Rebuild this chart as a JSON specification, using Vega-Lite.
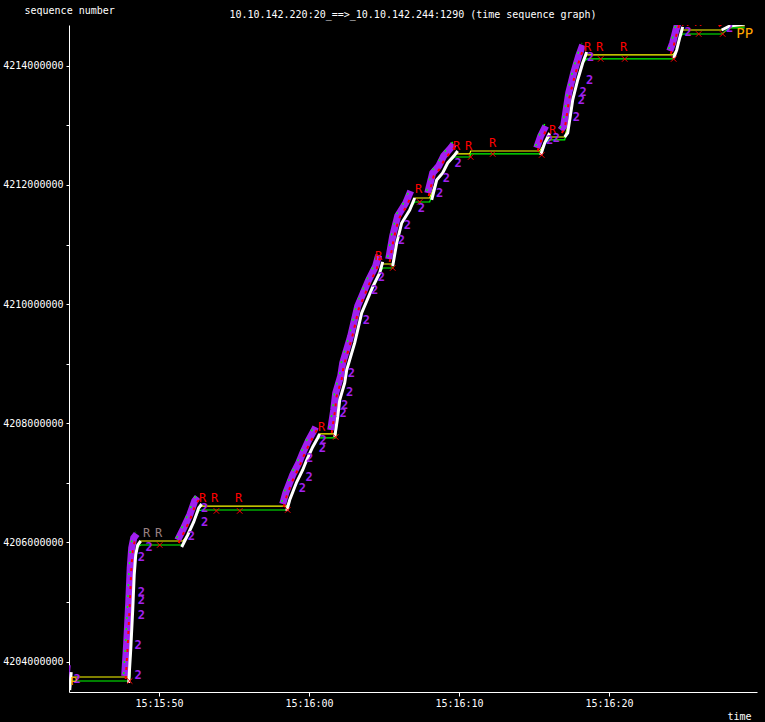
{
  "$schema": "https://vega.github.io/schema/vega-lite/v6.json",
  "width": 688,
  "height": 667,
  "autosize": "none",
  "padding": {"left": 69, "top": 25, "right": 8, "bottom": 30},
  "background": "#000000",
  "config": {"view": {"stroke": null}, "font": "DejaVu Sans Mono"},
  "title": {"text": "10.10.142.220:20_==>_10.10.142.244:1290 (time sequence graph)", "color": "#ffffff", "font": "DejaVu Sans Mono", "fontSize": 10, "fontWeight": "normal", "anchor": "middle", "offset": -15},
  "datasets": {
    "win": [
      {"t": 44.18, "s": 4203743000}, {"t": 48.047, "s": 4203743000}, {"t": 48.113, "s": 4204196000}, {"t": 48.247, "s": 4204868000}, {"t": 48.347, "s": 4205455000}, {"t": 48.447, "s": 4205790000}, {"t": 48.58, "s": 4205925000}, {"t": 48.78, "s": 4206025000}, {"t": 51.58, "s": 4206025000}, {"t": 51.913, "s": 4206126000}, {"t": 52.313, "s": 4206344000}, {"t": 52.647, "s": 4206579000}, {"t": 52.847, "s": 4206612000}, {"t": 58.513, "s": 4206612000}, {"t": 58.713, "s": 4206713000}, {"t": 59.18, "s": 4207015000}, {"t": 59.58, "s": 4207217000}, {"t": 59.847, "s": 4207384000}, {"t": 60.247, "s": 4207603000}, {"t": 60.58, "s": 4207754000}, {"t": 60.713, "s": 4207821000}, {"t": 61.78, "s": 4207821000}, {"t": 61.913, "s": 4208106000}, {"t": 62.047, "s": 4208391000}, {"t": 62.38, "s": 4208676000}, {"t": 62.513, "s": 4208894000}, {"t": 63.047, "s": 4209348000}, {"t": 63.513, "s": 4209851000}, {"t": 64.247, "s": 4210287000}, {"t": 64.713, "s": 4210522000}, {"t": 64.913, "s": 4210673000}, {"t": 65.58, "s": 4210673000}, {"t": 65.847, "s": 4211025000}, {"t": 66.18, "s": 4211361000}, {"t": 66.713, "s": 4211579000}, {"t": 67.047, "s": 4211780000}, {"t": 68.047, "s": 4211780000}, {"t": 68.513, "s": 4212082000}, {"t": 68.913, "s": 4212200000}, {"t": 69.247, "s": 4212368000}, {"t": 69.713, "s": 4212519000}, {"t": 70.713, "s": 4212519000}, {"t": 70.78, "s": 4212569000}, {"t": 75.38, "s": 4212569000}, {"t": 75.713, "s": 4212703000}, {"t": 76.047, "s": 4212804000}, {"t": 77.047, "s": 4212804000}, {"t": 77.38, "s": 4213089000}, {"t": 77.58, "s": 4213425000}, {"t": 77.913, "s": 4213760000}, {"t": 78.247, "s": 4214046000}, {"t": 78.513, "s": 4214180000}, {"t": 84.247, "s": 4214180000}, {"t": 84.513, "s": 4214264000}, {"t": 84.713, "s": 4214465000}, {"t": 84.913, "s": 4214599000}, {"t": 87.513, "s": 4214599000}, {"t": 88.047, "s": 4214666000}, {"t": 89.047, "s": 4214666000}
    ],
    "ack": [
      {"t": 44.18, "s": 4203676000}, {"t": 48.047, "s": 4203676000}, {"t": 48.113, "s": 4204196000}, {"t": 48.247, "s": 4204868000}, {"t": 48.347, "s": 4205455000}, {"t": 48.447, "s": 4205790000}, {"t": 48.58, "s": 4205925000}, {"t": 48.78, "s": 4205958000}, {"t": 51.58, "s": 4205958000}, {"t": 51.913, "s": 4206126000}, {"t": 52.313, "s": 4206344000}, {"t": 52.647, "s": 4206529000}, {"t": 52.847, "s": 4206545000}, {"t": 58.513, "s": 4206545000}, {"t": 58.713, "s": 4206713000}, {"t": 59.18, "s": 4207015000}, {"t": 59.58, "s": 4207217000}, {"t": 59.847, "s": 4207384000}, {"t": 60.247, "s": 4207603000}, {"t": 60.58, "s": 4207754000}, {"t": 61.78, "s": 4207754000}, {"t": 61.913, "s": 4208106000}, {"t": 62.047, "s": 4208391000}, {"t": 62.38, "s": 4208676000}, {"t": 62.513, "s": 4208894000}, {"t": 63.047, "s": 4209348000}, {"t": 63.513, "s": 4209851000}, {"t": 64.247, "s": 4210287000}, {"t": 64.713, "s": 4210522000}, {"t": 64.913, "s": 4210606000}, {"t": 65.58, "s": 4210606000}, {"t": 65.847, "s": 4211025000}, {"t": 66.18, "s": 4211361000}, {"t": 66.713, "s": 4211579000}, {"t": 67.047, "s": 4211713000}, {"t": 68.047, "s": 4211713000}, {"t": 68.513, "s": 4212082000}, {"t": 68.913, "s": 4212200000}, {"t": 69.247, "s": 4212368000}, {"t": 69.713, "s": 4212468000}, {"t": 70.713, "s": 4212468000}, {"t": 70.78, "s": 4212519000}, {"t": 75.38, "s": 4212519000}, {"t": 75.713, "s": 4212703000}, {"t": 76.047, "s": 4212754000}, {"t": 77.047, "s": 4212754000}, {"t": 77.38, "s": 4213089000}, {"t": 77.58, "s": 4213425000}, {"t": 77.913, "s": 4213760000}, {"t": 78.247, "s": 4214046000}, {"t": 78.513, "s": 4214113000}, {"t": 84.247, "s": 4214113000}, {"t": 84.513, "s": 4214264000}, {"t": 84.713, "s": 4214465000}, {"t": 84.913, "s": 4214532000}, {"t": 87.513, "s": 4214532000}, {"t": 88.047, "s": 4214633000}, {"t": 89.047, "s": 4214633000}
    ],
    "seg": [
      {"g": 0, "t": 44.047, "s": 4203525000}, {"g": 0, "t": 44.147, "s": 4203827000},
      {"g": 1, "t": 47.98, "s": 4203643000}, {"g": 1, "t": 48.113, "s": 4204196000}, {"g": 1, "t": 48.247, "s": 4204868000}, {"g": 1, "t": 48.347, "s": 4205455000}, {"g": 1, "t": 48.447, "s": 4205790000}, {"g": 1, "t": 48.58, "s": 4205958000}, {"g": 1, "t": 48.78, "s": 4206025000},
      {"g": 2, "t": 51.513, "s": 4205925000}, {"g": 2, "t": 51.913, "s": 4206126000}, {"g": 2, "t": 52.313, "s": 4206344000}, {"g": 2, "t": 52.647, "s": 4206579000}, {"g": 2, "t": 52.847, "s": 4206646000},
      {"g": 3, "t": 58.513, "s": 4206529000}, {"g": 3, "t": 58.713, "s": 4206713000}, {"g": 3, "t": 59.18, "s": 4207015000}, {"g": 3, "t": 59.58, "s": 4207217000}, {"g": 3, "t": 59.847, "s": 4207384000}, {"g": 3, "t": 60.247, "s": 4207603000}, {"g": 3, "t": 60.58, "s": 4207754000}, {"g": 3, "t": 60.713, "s": 4207821000},
      {"g": 4, "t": 61.713, "s": 4207770000}, {"g": 4, "t": 61.913, "s": 4208106000}, {"g": 4, "t": 62.047, "s": 4208391000}, {"g": 4, "t": 62.38, "s": 4208676000}, {"g": 4, "t": 62.513, "s": 4208894000}, {"g": 4, "t": 63.047, "s": 4209348000}, {"g": 4, "t": 63.513, "s": 4209851000}, {"g": 4, "t": 64.247, "s": 4210287000}, {"g": 4, "t": 64.713, "s": 4210522000}, {"g": 4, "t": 64.913, "s": 4210707000},
      {"g": 5, "t": 65.58, "s": 4210639000}, {"g": 5, "t": 65.847, "s": 4211025000}, {"g": 5, "t": 66.18, "s": 4211361000}, {"g": 5, "t": 66.713, "s": 4211579000}, {"g": 5, "t": 67.047, "s": 4211780000},
      {"g": 6, "t": 68.18, "s": 4211747000}, {"g": 6, "t": 68.513, "s": 4212082000}, {"g": 6, "t": 68.913, "s": 4212200000}, {"g": 6, "t": 69.247, "s": 4212368000}, {"g": 6, "t": 69.713, "s": 4212502000}, {"g": 6, "t": 69.913, "s": 4212569000},
      {"g": 7, "t": 75.447, "s": 4212502000}, {"g": 7, "t": 75.713, "s": 4212703000}, {"g": 7, "t": 76.047, "s": 4212871000},
      {"g": 8, "t": 77.047, "s": 4212804000}, {"g": 8, "t": 77.247, "s": 4212871000}, {"g": 8, "t": 77.38, "s": 4213089000}, {"g": 8, "t": 77.58, "s": 4213425000}, {"g": 8, "t": 77.913, "s": 4213760000}, {"g": 8, "t": 78.247, "s": 4214046000}, {"g": 8, "t": 78.513, "s": 4214230000},
      {"g": 9, "t": 84.313, "s": 4214130000}, {"g": 9, "t": 84.513, "s": 4214264000}, {"g": 9, "t": 84.713, "s": 4214465000}, {"g": 9, "t": 84.913, "s": 4214650000},
      {"g": 10, "t": 87.513, "s": 4214599000}, {"g": 10, "t": 88.047, "s": 4214666000}, {"g": 10, "t": 89.047, "s": 4214700000}
    ],
    "dup": [
      {"t": 44.533, "s": 4203710000}, {"t": 48.6, "s": 4203777000}, {"t": 48.6, "s": 4204280000}, {"t": 48.827, "s": 4204784000}, {"t": 48.827, "s": 4205035000}, {"t": 48.827, "s": 4205175000}, {"t": 48.827, "s": 4205762000}, {"t": 49.333, "s": 4205930000}, {"t": 52.16, "s": 4206109000}, {"t": 53.047, "s": 4206349000}, {"t": 53.047, "s": 4206579000}, {"t": 59.56, "s": 4206915000}, {"t": 60.0, "s": 4207104000}, {"t": 60.047, "s": 4207418000}, {"t": 60.893, "s": 4207586000}, {"t": 60.933, "s": 4207720000}, {"t": 62.267, "s": 4208173000}, {"t": 62.38, "s": 4208307000}, {"t": 62.713, "s": 4208530000}, {"t": 62.827, "s": 4208844000}, {"t": 63.827, "s": 4209733000}, {"t": 64.38, "s": 4210237000}, {"t": 64.827, "s": 4210460000}, {"t": 66.16, "s": 4211076000}, {"t": 66.56, "s": 4211327000}, {"t": 67.493, "s": 4211608000}, {"t": 68.713, "s": 4211864000}, {"t": 69.16, "s": 4212116000}, {"t": 69.933, "s": 4212368000}, {"t": 76.047, "s": 4212754000}, {"t": 76.493, "s": 4212782000}, {"t": 77.827, "s": 4213145000}, {"t": 78.16, "s": 4213425000}, {"t": 78.267, "s": 4213564000}, {"t": 78.713, "s": 4213760000}, {"t": 78.78, "s": 4214151000}, {"t": 85.267, "s": 4214571000}, {"t": 88.047, "s": 4214633000}
    ],
    "rx": [
      {"t": 52.913, "s": 4206747000}, {"t": 53.713, "s": 4206747000}, {"t": 55.313, "s": 4206747000}, {"t": 60.847, "s": 4207938000}, {"t": 64.647, "s": 4210807000}, {"t": 67.313, "s": 4211931000}, {"t": 69.847, "s": 4212653000}, {"t": 70.647, "s": 4212653000}, {"t": 72.247, "s": 4212703000}, {"t": 76.247, "s": 4212921000}, {"t": 78.58, "s": 4214314000}, {"t": 79.38, "s": 4214314000}, {"t": 80.98, "s": 4214314000}, {"t": 85.047, "s": 4214733000}, {"t": 85.913, "s": 4214733000}
    ],
    "rxgray": [
      {"t": 49.18, "s": 4206160000}, {"t": 49.98, "s": 4206160000}
    ],
    "xm": [
      {"t": 48.047, "s": 4203676000}, {"t": 50.047, "s": 4205958000}, {"t": 53.827, "s": 4206529000}, {"t": 55.38, "s": 4206529000}, {"t": 58.58, "s": 4206545000}, {"t": 61.78, "s": 4207770000}, {"t": 65.58, "s": 4210606000}, {"t": 67.38, "s": 4211713000}, {"t": 70.78, "s": 4212468000}, {"t": 72.247, "s": 4212519000}, {"t": 75.513, "s": 4212502000}, {"t": 79.447, "s": 4214113000}, {"t": 81.047, "s": 4214113000}, {"t": 84.313, "s": 4214113000}, {"t": 85.98, "s": 4214532000}, {"t": 87.58, "s": 4214532000}
    ],
    "pp": [
      {"t": 89.047, "s": 4214532000, "label": "PP"}
    ],
    "pfin": [
      {"t": 44.313, "s": 4203659000, "label": "P"}
    ]
  },
  "encoding": {
    "x": {
      "field": "t", "type": "quantitative",
      "scale": {"domain": [44, 89.867], "nice": false, "zero": false},
      "axis": {
        "values": [50, 60, 70, 80],
        "labelExpr": "datum.value == 50 ? '15:15:50' : datum.value == 60 ? '15:16:00' : datum.value == 70 ? '15:16:10' : '15:16:20'",
        "grid": false, "domainColor": "#ffffff", "tickColor": "#ffffff", "tickSize": 4, "labelColor": "#ffffff",
        "labelFont": "DejaVu Sans Mono", "labelFontSize": 10, "labelPadding": 2,
        "title": "time", "titleColor": "#ffffff", "titleFont": "DejaVu Sans Mono", "titleFontSize": 10, "titleFontWeight": "normal",
        "titleAlign": "left", "titleX": 658, "titleY": 24, "titleBaseline": "middle"
      }
    },
    "y": {
      "field": "s", "type": "quantitative",
      "scale": {"domain": [4203491600, 4214682900], "nice": false, "zero": false},
      "axis": {
        "values": [4204000000, 4205000000, 4206000000, 4207000000, 4208000000, 4209000000, 4210000000, 4211000000, 4212000000, 4213000000, 4214000000],
        "format": "d",
        "labelExpr": "datum.value % 2000000 == 0 ? datum.label : ''",
        "labelOverlap": false,
        "grid": false, "domainColor": "#ffffff", "tickColor": "#ffffff", "tickSize": 3, "labelColor": "#ffffff",
        "labelFont": "DejaVu Sans Mono", "labelFontSize": 10, "labelPadding": 3,
        "title": "sequence number", "titleColor": "#ffffff", "titleFont": "DejaVu Sans Mono", "titleFontSize": 10, "titleFontWeight": "normal",
        "titleAngle": 0, "titleAlign": "left", "titleX": -45, "titleY": -15, "titleBaseline": "middle"
      }
    }
  },
  "layer": [
    {"data": {"name": "win"}, "mark": {"type": "line", "color": "#ffff00", "strokeWidth": 1.2, "clip": true}},
    {"data": {"name": "ack"}, "mark": {"type": "line", "color": "#00ff00", "strokeWidth": 1.2, "clip": true}},
    {"data": {"name": "seg"}, "mark": {"type": "line", "color": "#a020f0", "strokeWidth": 7, "xOffset": -4, "yOffset": -7, "clip": true}, "encoding": {"detail": {"field": "g", "type": "nominal"}}},
    {"data": {"name": "seg"}, "mark": {"type": "line", "color": "#ff0000", "strokeWidth": 2, "strokeDash": [3, 6], "xOffset": -3, "yOffset": -4, "clip": true}, "encoding": {"detail": {"field": "g", "type": "nominal"}}},
    {"data": {"name": "seg"}, "mark": {"type": "line", "color": "#00ff00", "strokeWidth": 1.5, "strokeDash": [2, 9], "xOffset": -5, "yOffset": -9, "clip": true}, "encoding": {"detail": {"field": "g", "type": "nominal"}}},
    {"data": {"name": "seg"}, "mark": {"type": "line", "color": "#ffffff", "strokeWidth": 3, "clip": true}, "encoding": {"detail": {"field": "g", "type": "nominal"}}},
    {"data": {"name": "xm"}, "mark": {"type": "point", "shape": "M-1,-1L1,1M-1,1L1,-1", "size": 30, "filled": false, "stroke": "#ff0000", "strokeWidth": 1, "opacity": 1, "clip": true}},
    {"data": {"name": "rxgray"}, "mark": {"type": "text", "text": "R", "color": "#9a8080", "font": "DejaVu Sans Mono", "fontSize": 12, "baseline": "middle", "align": "center", "clip": true}},
    {"data": {"name": "rx"}, "mark": {"type": "text", "text": "R", "color": "#ff0000", "font": "DejaVu Sans Mono", "fontSize": 12, "baseline": "middle", "align": "center", "clip": true}},
    {"data": {"name": "dup"}, "mark": {"type": "text", "text": "2", "color": "#a020f0", "font": "DejaVu Sans Mono", "fontSize": 12, "fontWeight": "bold", "baseline": "middle", "align": "center", "clip": true}},
    {"data": {"name": "pp"}, "mark": {"type": "text", "color": "#ffa500", "font": "DejaVu Sans Mono", "fontSize": 14, "baseline": "middle", "align": "center", "clip": true}, "encoding": {"text": {"field": "label"}}},
    {"data": {"name": "pfin"}, "mark": {"type": "text", "color": "#ffa500", "font": "DejaVu Sans Mono", "fontSize": 11, "baseline": "middle", "align": "center", "clip": true}, "encoding": {"text": {"field": "label"}}}
  ]
}
